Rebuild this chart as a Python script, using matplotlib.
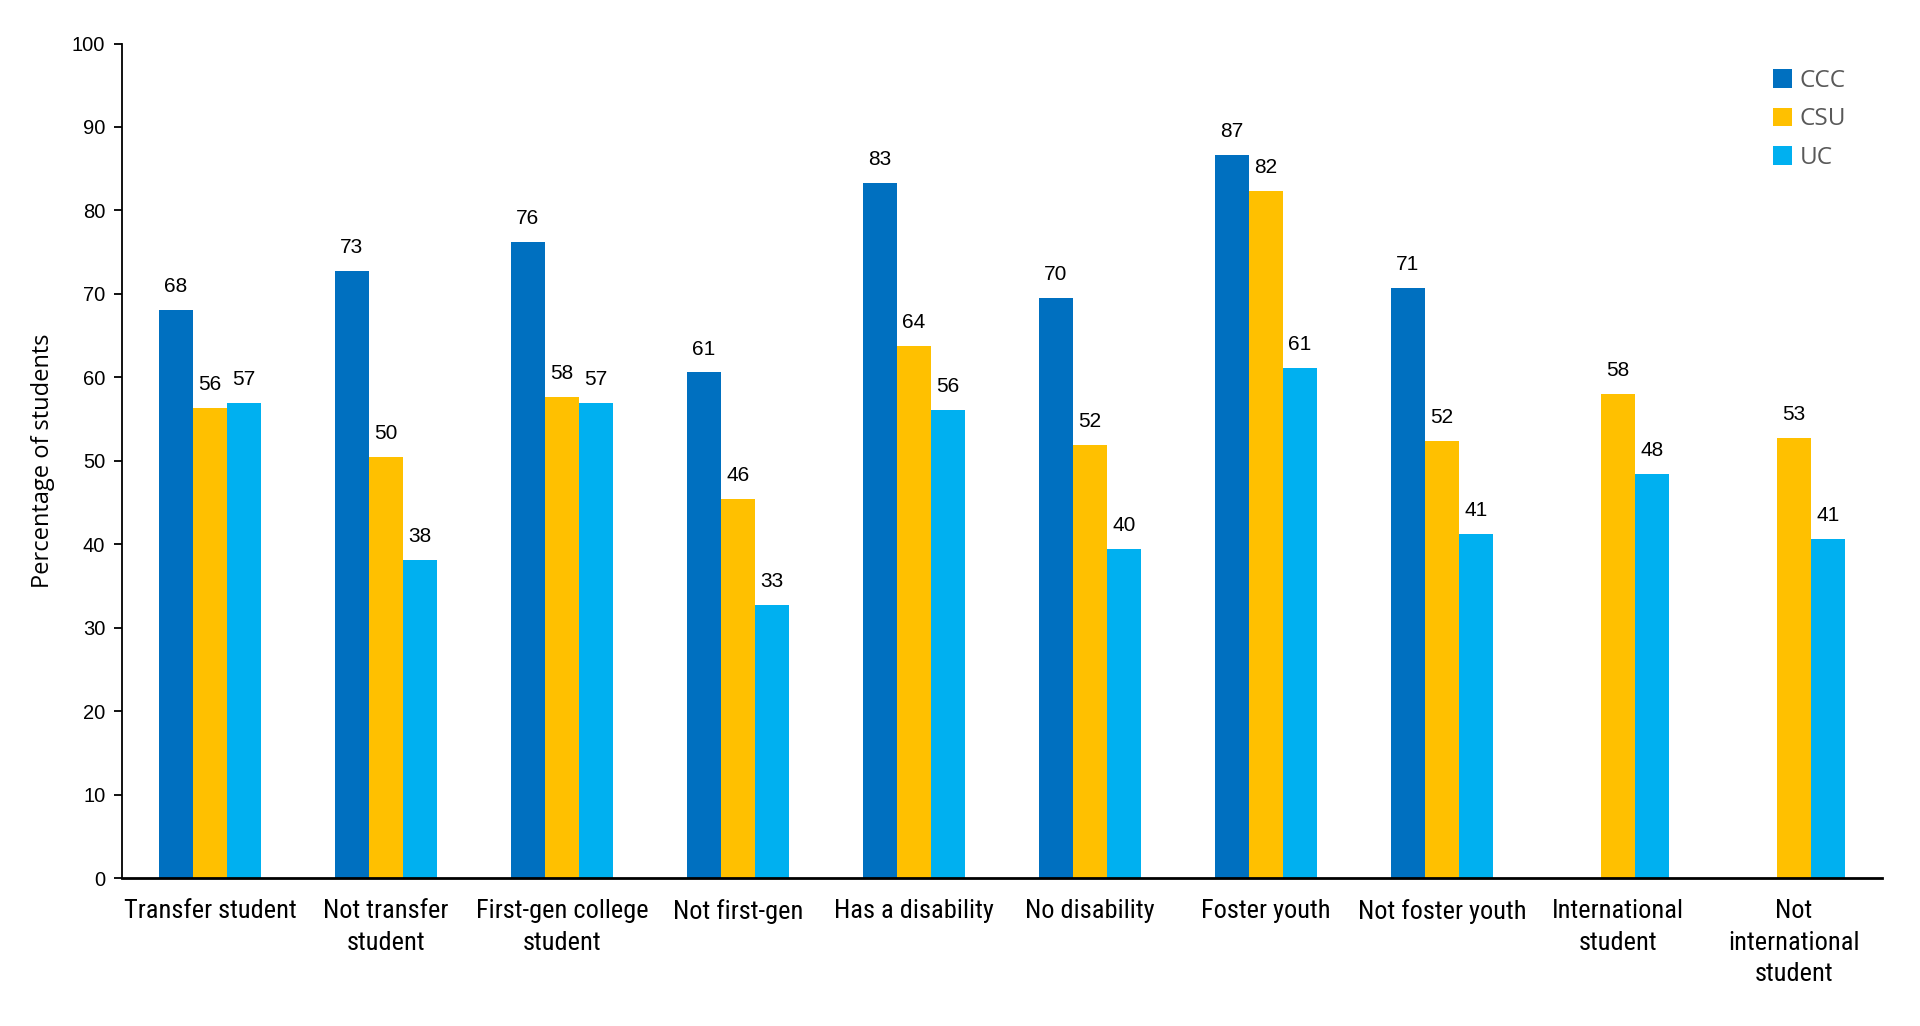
import matplotlib
matplotlib.use("Agg")
import matplotlib.pyplot as plt
import numpy as np
from matplotlib import font_manager

categories = ["Transfer student", "Not transfer\nstudent", "First-gen college\nstudent",
              "Not first-gen", "Has a disability", "No disability", "Foster youth",
              "Not foster youth", "International\nstudent", "Not\ninternational\nstudent"]
series_names = ["CCC", "CSU", "UC"]
ccc = [68.1, 72.8, 76.2, 60.6, 83.3, 69.5, 86.6, 70.7, None, None]
csu = [56.4, 50.5, 57.7, 45.5, 63.8, 51.9, 82.3, 52.4, 58.0, 52.8]
uc = [57.0, 38.2, 56.9, 32.8, 56.1, 39.5, 61.1, 41.3, 48.5, 40.7]
yticks = [0, 10, 20, 30, 40, 50, 60, 70, 80, 90, 100]

colors = ["#0070C0", "#FFC000", "#00B0F0"]

available = {f.name for f in font_manager.fontManager.ttflist}
narrow = ["Liberation Sans Narrow", "Roboto Condensed", "Open Sans Condensed", "Liberation Sans"]
narrow = [f for f in narrow if f in available] or ["DejaVu Sans"]
arial = ["Liberation Sans", "DejaVu Sans"]

fig = plt.figure(figsize=(19.2, 10.26), dpi=100)
ax = fig.add_axes([0.0635, 0.1438, 0.9167, 0.8138])

x = np.arange(len(categories))
w = 0.193
for i, (vals, col, name) in enumerate(zip([ccc, csu, uc], colors, series_names)):
    xs = [xi + (i - 1) * w for xi, v in zip(x, vals) if v is not None]
    vs = [v for v in vals if v is not None]
    ax.bar(xs, vs, width=w, color=col, label=name, linewidth=0)
    for xx, v in zip(xs, vs):
        ax.annotate(f"{v:.0f}", (xx, v), xytext=(0, 10), textcoords="offset points",
                    ha="center", va="bottom", fontsize=15, family=arial, color="#000000")

ax.set_xlim(-0.5, len(categories) - 0.5)
ax.set_ylim(0, 100)
ax.set_yticks(yticks)
ax.set_yticklabels([str(t) for t in yticks], fontsize=14.5, family=arial)
ax.set_xticks(x)
ax.set_xticklabels(categories, fontsize=19, family=narrow, linespacing=1.4)
ax.tick_params(axis="x", length=0, pad=15)
ax.tick_params(axis="y", length=6, width=1.3, direction="out", pad=6)
for s in ["top", "right"]:
    ax.spines[s].set_visible(False)
ax.spines["left"].set_linewidth(1.3)
ax.spines["bottom"].set_linewidth(2)
ax.set_ylabel("Percentage of students", fontsize=17, family=["Open Sans", "DejaVu Sans"], labelpad=12)

leg = ax.legend(loc="upper right", bbox_to_anchor=(0.992, 0.996), frameon=False,
                handlelength=0.8, handleheight=0.8, handletextpad=0.3, labelspacing=0.6,
                prop={"family": ["Open Sans", "DejaVu Sans"], "size": 17.5})
for t in leg.get_texts():
    t.set_color("#595959")

fig.savefig("out.png", dpi=100)
